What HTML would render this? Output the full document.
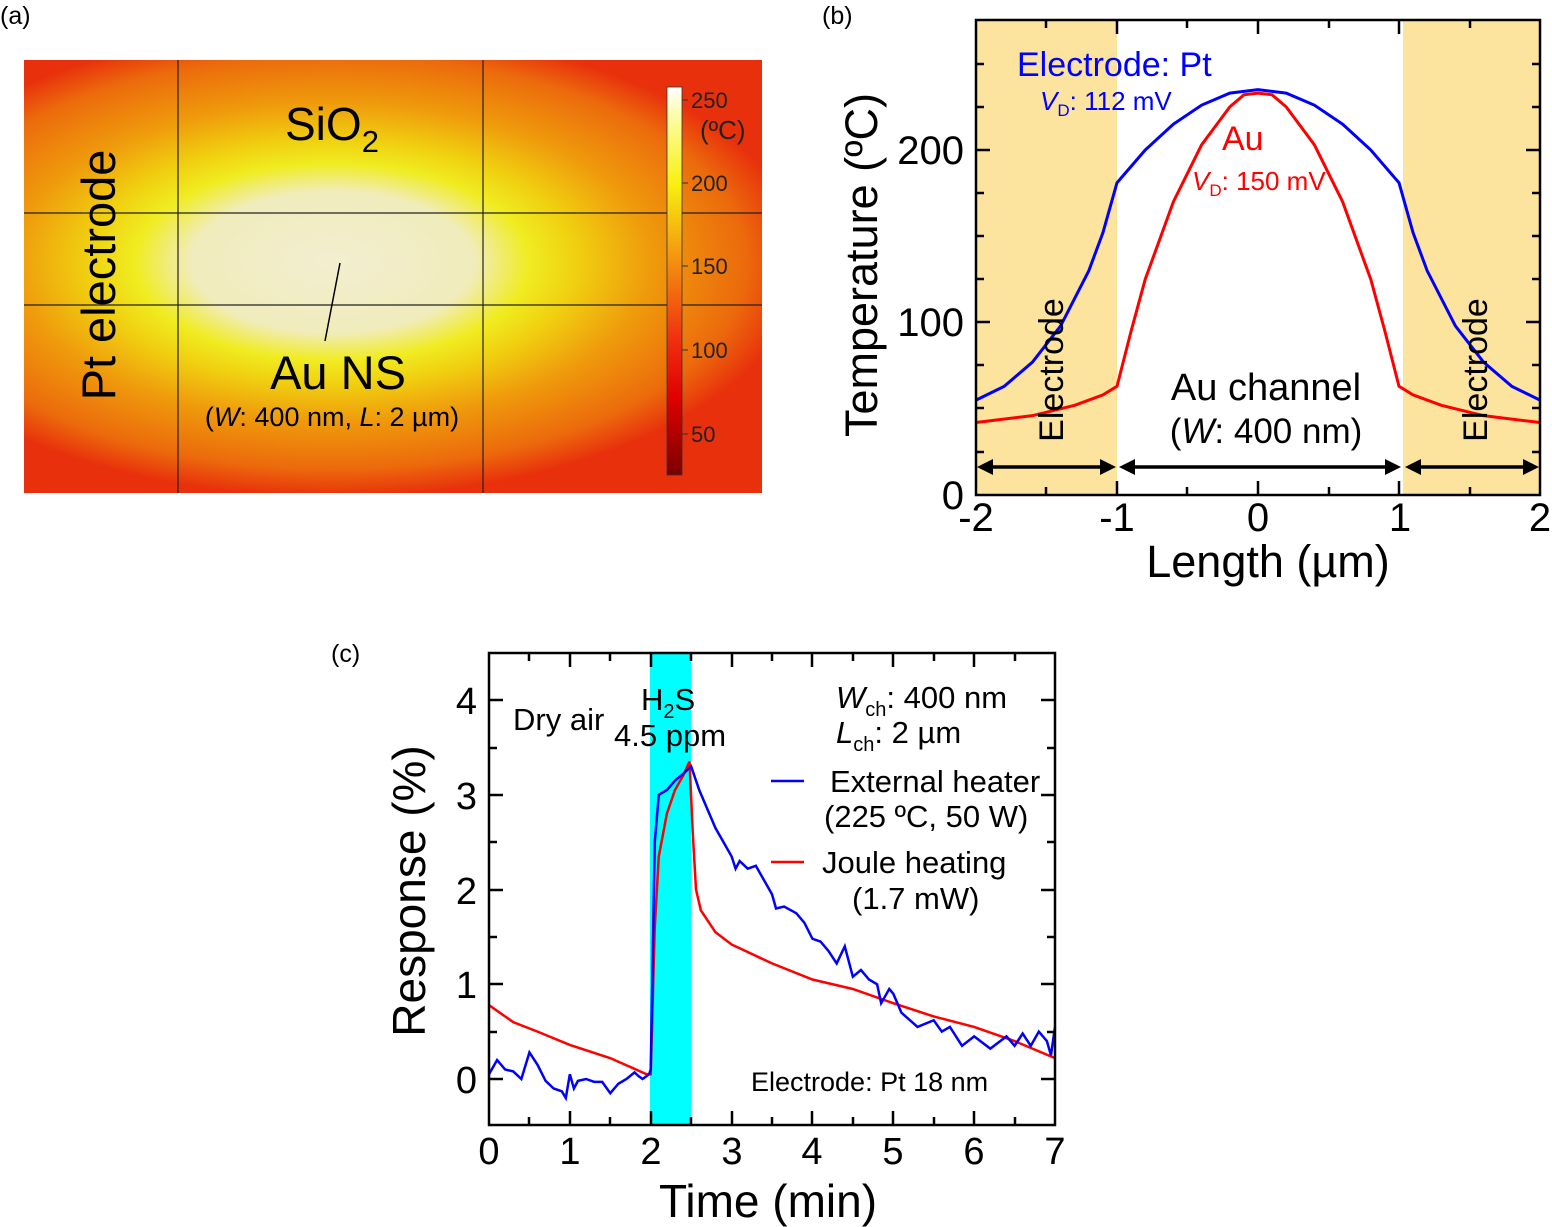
<!DOCTYPE html>
<html><head><meta charset="utf-8"><style>
body{margin:0;background:#fff;}
svg{display:block;font-family:"Liberation Sans",sans-serif;}
</style></head><body>
<svg width="1552" height="1227" viewBox="0 0 1552 1227" xmlns="http://www.w3.org/2000/svg">
<defs>
<radialGradient id="heat" cx="332" cy="262" r="470" gradientUnits="userSpaceOnUse" gradientTransform="translate(332 262) scale(1 0.5) translate(-332 -262)">
<stop offset="0" stop-color="#f2eed0"/>
<stop offset="0.3" stop-color="#f1ecbc"/>
<stop offset="0.42" stop-color="#f0ec20"/>
<stop offset="0.52" stop-color="#f0d010"/>
<stop offset="0.68" stop-color="#ef9a0c"/>
<stop offset="0.88" stop-color="#ec6a0c"/>
<stop offset="1" stop-color="#e8300c"/>
</radialGradient>
<linearGradient id="cbar" x1="0" y1="1" x2="0" y2="0">
<stop offset="0" stop-color="#7a0000"/>
<stop offset="0.2" stop-color="#e00000"/>
<stop offset="0.35" stop-color="#f03010"/>
<stop offset="0.55" stop-color="#f39010"/>
<stop offset="0.75" stop-color="#f8f010"/>
<stop offset="0.9" stop-color="#fbfb90"/>
<stop offset="1" stop-color="#ffffff"/>
</linearGradient>
</defs>

<!-- Panel (a) -->
<text x="0" y="24" font-size="25">(a)</text>
<rect x="24" y="60" width="738" height="433" fill="url(#heat)"/>
<line x1="178" y1="60" x2="178" y2="493" stroke="#222" stroke-width="1.2"/>
<line x1="483" y1="60" x2="483" y2="493" stroke="#222" stroke-width="1.2"/>
<line x1="24" y1="213" x2="762" y2="213" stroke="#222" stroke-width="1.2"/>
<line x1="24" y1="305" x2="762" y2="305" stroke="#222" stroke-width="1.2"/>
<line x1="340" y1="263" x2="325" y2="341" stroke="#000" stroke-width="1.5"/>
<text x="285" y="140" font-size="46">SiO<tspan font-size="31" dy="12">2</tspan></text>
<text x="338" y="389" font-size="47" text-anchor="middle">Au NS</text>
<text x="332" y="426" font-size="27" text-anchor="middle">(<tspan font-style="italic">W</tspan>: 400 nm, <tspan font-style="italic">L</tspan>: 2 µm)</text>
<text transform="translate(115 275) rotate(-90)" font-size="47" text-anchor="middle">Pt electrode</text>
<rect x="667" y="87" width="15" height="388" fill="url(#cbar)" stroke="#333" stroke-width="0.8"/>
<g stroke="#333" stroke-width="1"><line x1="682" y1="100" x2="688" y2="100"/><line x1="682" y1="183" x2="688" y2="183"/><line x1="682" y1="266" x2="688" y2="266"/><line x1="682" y1="350" x2="688" y2="350"/><line x1="682" y1="434" x2="688" y2="434"/></g>
<g font-size="22" fill="#222"><text x="691" y="108">250</text><text x="700" y="139" font-size="26">(ºC)</text><text x="691" y="191">200</text><text x="691" y="274">150</text><text x="691" y="358">100</text><text x="691" y="442">50</text></g>

<!-- Panel (b) -->
<text x="822" y="24" font-size="25">(b)</text>
<rect x="976" y="20" width="141" height="475" fill="#fde49e"/>
<rect x="1403" y="20" width="137" height="475" fill="#fde49e"/>
<g transform="translate(1258 495) scale(141 -1.725)" fill="none" stroke-width="3">
<polyline vector-effect="non-scaling-stroke" stroke="#0000ff" points="-2,55 -1.8,63 -1.6,77 -1.4,98 -1.2,130 -1.1,152 -1,181 -0.8,200 -0.6,215 -0.4,226 -0.2,233 0,235 0.2,233 0.4,226 0.6,215 0.8,200 1,181 1.1,152 1.2,130 1.4,98 1.6,77 1.8,63 2,55"/>
<polyline vector-effect="non-scaling-stroke" stroke="#ff0000" points="-2,42 -1.6,46 -1.3,52 -1.1,58 -1,63 -0.9,95 -0.8,125 -0.6,170 -0.4,203 -0.2,225 -0.1,232 0,233 0.1,232 0.2,225 0.4,203 0.6,170 0.8,125 0.9,95 1,63 1.1,58 1.3,52 1.6,46 2,42"/>
</g>
<rect x="976" y="20" width="564" height="475" fill="none" stroke="#000" stroke-width="2.5"/>
<g stroke="#000" stroke-width="2.5">
<line x1="976" y1="150" x2="990" y2="150"/><line x1="976" y1="322" x2="990" y2="322"/><line x1="1540" y1="150" x2="1526" y2="150"/><line x1="1540" y1="322" x2="1526" y2="322"/>
<line x1="976" y1="64" x2="984" y2="64"/><line x1="976" y1="107" x2="984" y2="107"/><line x1="976" y1="193" x2="984" y2="193"/><line x1="976" y1="236" x2="984" y2="236"/><line x1="976" y1="279" x2="984" y2="279"/><line x1="976" y1="365" x2="984" y2="365"/><line x1="976" y1="408" x2="984" y2="408"/><line x1="976" y1="452" x2="984" y2="452"/>
<line x1="1540" y1="64" x2="1532" y2="64"/><line x1="1540" y1="107" x2="1532" y2="107"/><line x1="1540" y1="193" x2="1532" y2="193"/><line x1="1540" y1="236" x2="1532" y2="236"/><line x1="1540" y1="279" x2="1532" y2="279"/><line x1="1540" y1="365" x2="1532" y2="365"/><line x1="1540" y1="408" x2="1532" y2="408"/><line x1="1540" y1="452" x2="1532" y2="452"/>
<line x1="1117" y1="495" x2="1117" y2="481"/><line x1="1258" y1="495" x2="1258" y2="481"/><line x1="1399" y1="495" x2="1399" y2="481"/>
<line x1="1117" y1="20" x2="1117" y2="34"/><line x1="1258" y1="20" x2="1258" y2="34"/><line x1="1399" y1="20" x2="1399" y2="34"/>
<line x1="1046" y1="495" x2="1046" y2="487"/><line x1="1187" y1="495" x2="1187" y2="487"/><line x1="1329" y1="495" x2="1329" y2="487"/><line x1="1470" y1="495" x2="1470" y2="487"/>
<line x1="1046" y1="20" x2="1046" y2="28"/><line x1="1187" y1="20" x2="1187" y2="28"/><line x1="1329" y1="20" x2="1329" y2="28"/><line x1="1470" y1="20" x2="1470" y2="28"/>
</g>
<g stroke="#000" stroke-width="3.5"><line x1="984" y1="467" x2="1110" y2="467"/><line x1="1125" y1="467" x2="1395" y2="467"/><line x1="1410" y1="467" x2="1533" y2="467"/></g>
<g fill="#000">
<polygon points="977,467 993,459 993,475"/><polygon points="1116,467 1100,459 1100,475"/>
<polygon points="1119,467 1135,459 1135,475"/><polygon points="1401,467 1385,459 1385,475"/>
<polygon points="1405,467 1421,459 1421,475"/><polygon points="1539,467 1523,459 1523,475"/>
</g>
<g font-size="40" text-anchor="middle"><text x="976" y="531">-2</text><text x="1117" y="531">-1</text><text x="1258" y="531">0</text><text x="1400" y="531">1</text><text x="1540" y="531">2</text></g>
<g font-size="40" text-anchor="end"><text x="964" y="509">0</text><text x="964" y="336">100</text><text x="964" y="164">200</text></g>
<text x="1268" y="577" font-size="45" text-anchor="middle">Length (µm)</text>
<text transform="translate(877 265) rotate(-90)" font-size="45" text-anchor="middle">Temperature (ºC)</text>
<text x="1017" y="76" font-size="34">
<tspan fill="#0000ff">Electrode: Pt</tspan></text>
<text x="1040" y="110" font-size="26" fill="#0000ff"><tspan font-style="italic">V</tspan><tspan font-size="17" dy="6">D</tspan><tspan dy="-6">: 112 mV</tspan></text>
<text x="1222" y="150" font-size="34" fill="#ff0000">Au</text>
<text x="1192" y="190" font-size="26" fill="#ff0000"><tspan font-style="italic">V</tspan><tspan font-size="17" dy="6">D</tspan><tspan dy="-6">: 150 mV</tspan></text>
<text x="1266" y="400" font-size="38" text-anchor="middle">Au channel</text>
<text x="1266" y="443" font-size="35" text-anchor="middle">(<tspan font-style="italic">W</tspan>: 400 nm)</text>
<text transform="translate(1063 370) rotate(-90)" font-size="34" text-anchor="middle">Electrode</text>
<text transform="translate(1487 370) rotate(-90)" font-size="34" text-anchor="middle">Electrode</text>

<!-- Panel (c) -->
<text x="331" y="662" font-size="25">(c)</text>
<rect x="650" y="653" width="41" height="472" fill="#00ffff"/>
<g transform="translate(489 1079) scale(80.857 -94.75)" fill="none" stroke-width="2.5">
<polyline vector-effect="non-scaling-stroke" stroke="#ff0000" points="0,0.78 0.3,0.6 0.6,0.5 1,0.36 1.5,0.22 1.95,0.05 2.0,0.05 2.05,1.6 2.1,2.35 2.2,2.8 2.3,3.05 2.4,3.2 2.48,3.35 2.52,2.6 2.56,2.0 2.62,1.78 2.8,1.55 3.0,1.42 3.5,1.22 4,1.05 4.5,0.95 5,0.8 5.5,0.66 6,0.55 6.5,0.4 7,0.22"/>
<polyline vector-effect="non-scaling-stroke" stroke="#0000ff" points="0,0.05 0.1,0.2 0.2,0.1 0.3,0.08 0.4,0.0 0.5,0.28 0.6,0.15 0.7,-0.02 0.8,-0.1 0.9,-0.13 0.95,-0.2 1.0,0.05 1.05,-0.1 1.1,-0.02 1.2,0 1.3,-0.03 1.4,-0.03 1.5,-0.15 1.6,-0.05 1.7,0.0 1.8,0.07 1.85,0.03 1.9,0.0 1.98,0.05 2.0,0.1 2.05,2.5 2.1,3.0 2.2,3.05 2.3,3.15 2.4,3.22 2.5,3.3 2.6,3.05 2.7,2.85 2.8,2.65 2.9,2.5 3.0,2.35 3.05,2.22 3.1,2.3 3.2,2.22 3.3,2.25 3.4,2.1 3.5,1.95 3.55,1.8 3.65,1.82 3.8,1.75 3.9,1.65 4.0,1.48 4.1,1.45 4.2,1.35 4.3,1.22 4.4,1.4 4.5,1.08 4.6,1.15 4.7,1.05 4.8,1.0 4.85,0.8 4.95,0.95 5.0,0.9 5.1,0.7 5.3,0.55 5.5,0.62 5.6,0.5 5.7,0.55 5.85,0.35 6.0,0.45 6.2,0.32 6.4,0.45 6.5,0.35 6.6,0.48 6.7,0.35 6.8,0.5 6.9,0.4 6.95,0.25 7.0,0.55"/>
</g>
<rect x="489" y="653" width="566" height="472" fill="none" stroke="#000" stroke-width="2.5"/>
<g stroke="#000" stroke-width="2.5">
<line x1="489" y1="1079" x2="503" y2="1079"/><line x1="489" y1="984" x2="503" y2="984"/><line x1="489" y1="890" x2="503" y2="890"/><line x1="489" y1="795" x2="503" y2="795"/><line x1="489" y1="700" x2="503" y2="700"/>
<line x1="1055" y1="1079" x2="1041" y2="1079"/><line x1="1055" y1="984" x2="1041" y2="984"/><line x1="1055" y1="890" x2="1041" y2="890"/><line x1="1055" y1="795" x2="1041" y2="795"/><line x1="1055" y1="700" x2="1041" y2="700"/>
<line x1="489" y1="1032" x2="497" y2="1032"/><line x1="489" y1="937" x2="497" y2="937"/><line x1="489" y1="842" x2="497" y2="842"/><line x1="489" y1="748" x2="497" y2="748"/>
<line x1="1055" y1="1032" x2="1047" y2="1032"/><line x1="1055" y1="937" x2="1047" y2="937"/><line x1="1055" y1="842" x2="1047" y2="842"/><line x1="1055" y1="748" x2="1047" y2="748"/>
<line x1="570" y1="1125" x2="570" y2="1111"/><line x1="651" y1="1125" x2="651" y2="1111"/><line x1="732" y1="1125" x2="732" y2="1111"/><line x1="812" y1="1125" x2="812" y2="1111"/><line x1="893" y1="1125" x2="893" y2="1111"/><line x1="974" y1="1125" x2="974" y2="1111"/>
<line x1="570" y1="653" x2="570" y2="667"/><line x1="651" y1="653" x2="651" y2="667"/><line x1="732" y1="653" x2="732" y2="667"/><line x1="812" y1="653" x2="812" y2="667"/><line x1="893" y1="653" x2="893" y2="667"/><line x1="974" y1="653" x2="974" y2="667"/>
<line x1="529" y1="1125" x2="529" y2="1117"/><line x1="610" y1="1125" x2="610" y2="1117"/><line x1="691" y1="1125" x2="691" y2="1117"/><line x1="772" y1="1125" x2="772" y2="1117"/><line x1="853" y1="1125" x2="853" y2="1117"/><line x1="934" y1="1125" x2="934" y2="1117"/><line x1="1015" y1="1125" x2="1015" y2="1117"/>
<line x1="529" y1="653" x2="529" y2="661"/><line x1="610" y1="653" x2="610" y2="661"/><line x1="691" y1="653" x2="691" y2="661"/><line x1="772" y1="653" x2="772" y2="661"/><line x1="853" y1="653" x2="853" y2="661"/><line x1="934" y1="653" x2="934" y2="661"/><line x1="1015" y1="653" x2="1015" y2="661"/>
</g>
<g font-size="38" text-anchor="middle"><text x="489" y="1164">0</text><text x="570" y="1164">1</text><text x="651" y="1164">2</text><text x="732" y="1164">3</text><text x="812" y="1164">4</text><text x="893" y="1164">5</text><text x="974" y="1164">6</text><text x="1055" y="1164">7</text></g>
<g font-size="38" text-anchor="end"><text x="477" y="1093">0</text><text x="477" y="998">1</text><text x="477" y="904">2</text><text x="477" y="809">3</text><text x="477" y="714">4</text></g>
<text x="768" y="1217" font-size="46" text-anchor="middle">Time (min)</text>
<text transform="translate(425 891) rotate(-90)" font-size="46" text-anchor="middle">Response (%)</text>
<text x="513" y="730" font-size="31">Dry air</text>
<text x="641" y="710" font-size="31">H<tspan font-size="20" dy="8">2</tspan><tspan dy="-8">S</tspan></text>
<text x="614" y="746" font-size="31">4.5 ppm</text>
<text x="836" y="708" font-size="31"><tspan font-style="italic">W</tspan><tspan font-size="20" dy="8">ch</tspan><tspan dy="-8">: 400 nm</tspan></text>
<text x="836" y="743" font-size="31"><tspan font-style="italic">L</tspan><tspan font-size="20" dy="8">ch</tspan><tspan dy="-8">: 2 µm</tspan></text>
<line x1="771" y1="781" x2="804" y2="781" stroke="#0000ff" stroke-width="2.5"/>
<text x="830" y="792" font-size="31">External heater</text>
<text x="824" y="827" font-size="31">(225 ºC, 50 W)</text>
<line x1="771" y1="862" x2="804" y2="862" stroke="#ff0000" stroke-width="2.5"/>
<text x="822" y="873" font-size="31">Joule heating</text>
<text x="852" y="909" font-size="31">(1.7 mW)</text>
<text x="751" y="1091" font-size="27">Electrode: Pt 18 nm</text>
</svg>
</body></html>
